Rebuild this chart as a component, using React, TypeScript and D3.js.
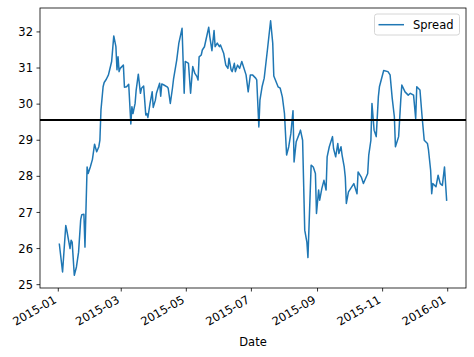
import React from "react";
import * as d3 from "d3";

const dates: string[] = [
  "2015-01-02","2015-01-05","2015-01-08","2015-01-09","2015-01-12","2015-01-13","2015-01-14","2015-01-16","2015-01-18","2015-01-20",
  "2015-01-22","2015-01-23","2015-01-25","2015-01-26","2015-01-28","2015-01-29","2015-01-31","2015-02-02","2015-02-04","2015-02-06",
  "2015-02-08","2015-02-09","2015-02-10","2015-02-12","2015-02-13","2015-02-15","2015-02-17","2015-02-18","2015-02-20","2015-02-22",
  "2015-02-24","2015-02-25","2015-02-26","2015-02-27","2015-02-28","2015-03-03","2015-03-04","2015-03-06","2015-03-08","2015-03-10",
  "2015-03-11","2015-03-12","2015-03-14","2015-03-15","2015-03-17","2015-03-19","2015-03-20","2015-03-22","2015-03-24","2015-03-25",
  "2015-03-26","2015-03-28","2015-03-30","2015-03-31","2015-04-02","2015-04-03","2015-04-06","2015-04-07","2015-04-08","2015-04-10",
  "2015-04-13","2015-04-14","2015-04-16","2015-04-18","2015-04-19","2015-04-22","2015-04-24","2015-04-27","2015-04-29","2015-04-30",
  "2015-05-02","2015-05-03","2015-05-05","2015-05-07","2015-05-09","2015-05-11","2015-05-12","2015-05-13","2015-05-15","2015-05-16",
  "2015-05-18","2015-05-22","2015-05-23","2015-05-25","2015-05-27","2015-05-28","2015-05-30","2015-06-01","2015-06-02","2015-06-05",
  "2015-06-07","2015-06-09","2015-06-10","2015-06-12","2015-06-13","2015-06-15","2015-06-16","2015-06-18","2015-06-20","2015-06-22",
  "2015-06-26","2015-06-28","2015-06-30","2015-07-02","2015-07-05","2015-07-06","2015-07-08","2015-07-09","2015-07-11","2015-07-13",
  "2015-07-16","2015-07-19","2015-07-21","2015-07-22","2015-07-26","2015-07-28","2015-07-30","2015-08-01","2015-08-03","2015-08-05",
  "2015-08-07","2015-08-09","2015-08-10","2015-08-12","2015-08-15","2015-08-16","2015-08-18","2015-08-20","2015-08-22","2015-08-23",
  "2015-08-26","2015-08-28","2015-08-30","2015-08-31","2015-09-02","2015-09-03","2015-09-05","2015-09-07","2015-09-09","2015-09-10",
  "2015-09-12","2015-09-15","2015-09-16","2015-09-18","2015-09-20","2015-09-21","2015-09-23","2015-09-24","2015-09-26","2015-09-27",
  "2015-09-28","2015-09-30","2015-10-02","2015-10-05","2015-10-08","2015-10-09","2015-10-12","2015-10-14","2015-10-18","2015-10-19",
  "2015-10-21","2015-10-22","2015-10-24","2015-10-26","2015-10-28","2015-10-29","2015-11-02","2015-11-06","2015-11-08","2015-11-10",
  "2015-11-12","2015-11-13","2015-11-16","2015-11-18","2015-11-19","2015-11-22","2015-11-25","2015-11-27","2015-11-30","2015-12-02",
  "2015-12-03","2015-12-06","2015-12-08","2015-12-10","2015-12-13","2015-12-14","2015-12-16","2015-12-17","2015-12-18","2015-12-21",
  "2015-12-23","2015-12-25","2015-12-27","2015-12-29","2015-12-31",
];

const spread: number[] = [
  26.12,25.35,26.64,26.50,26.00,26.23,26.18,25.26,25.49,25.90,
  26.80,26.94,26.95,26.04,28.26,28.08,28.26,28.47,28.89,28.68,
  28.82,29.00,29.84,30.48,30.60,30.69,30.81,30.93,31.18,31.89,
  31.59,30.95,31.31,30.90,30.99,31.08,30.47,30.48,30.55,29.45,
  29.93,29.74,30.02,30.39,30.83,30.30,30.44,30.50,29.70,29.74,
  29.63,30.02,30.34,29.91,30.11,30.30,30.58,30.22,30.56,30.53,
  30.48,30.44,30.02,30.44,30.69,31.22,31.69,32.10,30.30,31.18,
  31.15,31.13,30.30,31.04,30.85,30.76,30.67,31.31,31.36,31.50,
  31.59,32.13,31.87,31.48,32.04,31.59,31.69,31.59,31.64,31.41,
  31.08,30.99,31.27,30.95,30.90,31.13,30.90,31.08,30.99,31.18,
  30.81,30.34,30.81,30.81,30.72,30.67,29.37,30.11,30.48,30.72,
  31.50,32.31,31.69,30.78,30.48,30.44,30.20,29.74,28.59,28.82,
  29.19,29.82,28.40,28.96,29.19,29.28,29.00,26.51,26.18,25.75,
  28.31,28.26,28.08,26.97,27.62,27.34,27.66,27.89,27.62,28.54,
  28.82,29.10,28.77,28.54,28.91,28.63,28.82,28.59,28.26,27.98,
  27.25,27.57,27.66,27.80,27.52,28.12,27.98,27.80,28.08,28.59,
  29.00,30.02,29.28,29.10,30.20,30.48,30.93,30.90,30.81,30.16,
  29.65,28.82,29.10,30.11,30.53,30.34,30.25,30.30,30.25,29.60,
  30.48,30.39,29.65,29.00,28.91,28.73,28.17,27.52,27.80,27.71,
  28.03,27.80,27.75,28.26,27.34,
];

const meanLevel = 29.56;
const yTickValues: number[] = [25, 26, 27, 28, 29, 30, 31, 32];
const seriesName = "Spread";
const xLabel = "Date";

const W = 474;
const H = 357;
const left = 40;
const right = 466;
const top = 8;
const bottom = 288;
const FONT = "DejaVu Sans, sans-serif";
const FS = 11.5;

export default function App() {
  const parse = d3.utcParse("%Y-%m-%d");
  const data = dates.map((d, i) => ({ date: parse(d) as Date, v: spread[i] }));
  const [x0, x1] = d3.extent(data, (d) => d.date) as [Date, Date];
  const xPad = (x1.getTime() - x0.getTime()) * 0.05;
  const x = d3
    .scaleUtc()
    .domain([new Date(x0.getTime() - xPad), new Date(x1.getTime() + xPad)])
    .range([left, right]);
  const [y0, y1] = d3.extent(data, (d) => d.v) as [number, number];
  const yPad = (y1 - y0) * 0.05;
  const y = d3.scaleLinear().domain([y0 - yPad, y1 + yPad]).range([bottom, top]);

  const line = d3
    .line<{ date: Date; v: number }>()
    .x((d) => x(d.date))
    .y((d) => y(d.v));

  const xTicks = x.ticks(d3.utcMonth.every(2) as any);
  const fmt = d3.utcFormat("%Y-%m");

  return (
    <svg
      width={W}
      height={H}
      style={{ position: "absolute", left: 0, top: 0, background: "white" }}
      fontFamily={FONT}
    >
      <rect x={0} y={0} width={W} height={H} fill="white" />
      <path
        d={line(data) || ""}
        fill="none"
        stroke="#1f77b4"
        strokeWidth={1.5}
        strokeLinejoin="round"
        strokeLinecap="square"
      />
      <line x1={left} x2={right} y1={y(meanLevel)} y2={y(meanLevel)} stroke="black" strokeWidth={1.8} />
      <rect
        x={left}
        y={top}
        width={right - left}
        height={bottom - top}
        fill="none"
        stroke="black"
        strokeWidth={0.8}
      />
      {yTickValues.map((t) => (
        <g key={t}>
          <line x1={left - 3.5} x2={left} y1={y(t)} y2={y(t)} stroke="black" strokeWidth={0.8} />
          <text x={left - 7} y={y(t)} dy="0.36em" textAnchor="end" fontSize={FS} fill="#000">
            {t}
          </text>
        </g>
      ))}
      {xTicks.map((t, i) => (
        <g key={i}>
          <line x1={x(t)} x2={x(t)} y1={bottom} y2={bottom + 3.5} stroke="black" strokeWidth={0.8} />
          <text
            transform={`translate(${x(t) - 1},${bottom + 14}) rotate(-30)`}
            textAnchor="end"
            fontSize={FS}
            fill="#000"
          >
            {fmt(t)}
          </text>
        </g>
      ))}
      <text x={(left + right) / 2} y={346} textAnchor="middle" fontSize={FS} fill="#000">
        {xLabel}
      </text>
      <g>
        <rect x={374.5} y={14} width={85} height={21} rx={2.5} fill="white" fillOpacity={0.8} stroke="#cccccc" strokeWidth={0.8} />
        <line x1={378.5} x2={404} y1={24.7} y2={24.7} stroke="#1f77b4" strokeWidth={1.5} />
        <text x={413} y={24.7} dy="0.36em" fontSize={FS} fill="#000">
          {seriesName}
        </text>
      </g>
    </svg>
  );
}
